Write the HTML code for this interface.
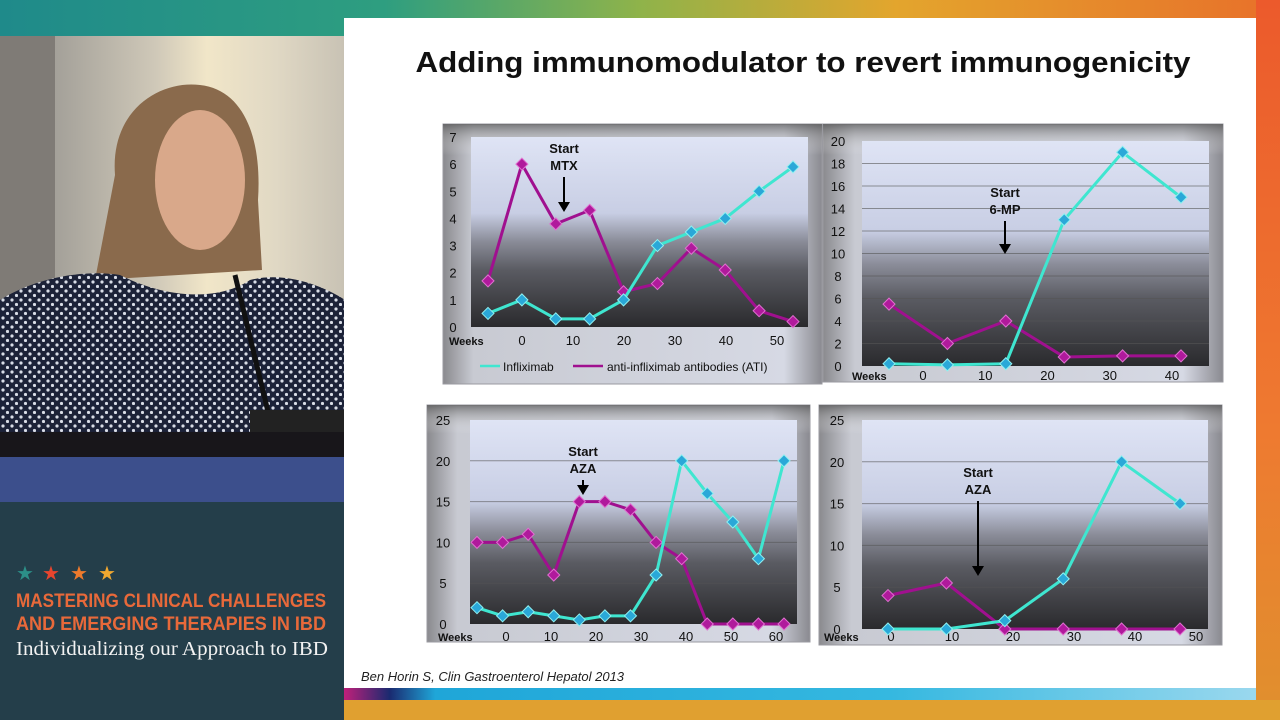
<!DOCTYPE html>
<html><head><meta charset="utf-8">
<style>
html,body{margin:0;padding:0;width:1280px;height:720px;overflow:hidden;background:#1f3b48;font-family:"Liberation Sans",sans-serif}
svg{position:absolute;left:0;top:0}
</style></head>
<body>
<svg width="1280" height="720" viewBox="0 0 1280 720">
<defs>
<linearGradient id="topbar" x1="0" x2="1" y1="0" y2="0">
<stop offset="0" stop-color="#1f8a8a"/><stop offset="0.3" stop-color="#2e9e80"/><stop offset="0.5" stop-color="#8fb34a"/><stop offset="0.7" stop-color="#e3a52d"/><stop offset="1" stop-color="#e8702a"/></linearGradient>
<linearGradient id="rightbar" x1="0" x2="0" y1="0" y2="1"><stop offset="0" stop-color="#ec5a2c"/><stop offset="0.6" stop-color="#ee7a30"/><stop offset="1" stop-color="#e0902e"/></linearGradient>
<linearGradient id="botbar" x1="0" x2="1"><stop offset="0" stop-color="#c0207a"/><stop offset="0.05" stop-color="#1a2a70"/><stop offset="0.1" stop-color="#1fa6d8"/><stop offset="0.6" stop-color="#35b8e0"/><stop offset="1" stop-color="#9ad8ee"/></linearGradient>
<linearGradient id="plotbg" x1="0" x2="0" y1="0" y2="1"><stop offset="0" stop-color="#dfe4f5"/><stop offset="0.4" stop-color="#c8cee4"/><stop offset="0.55" stop-color="#8a8c98"/><stop offset="0.7" stop-color="#5a5b62"/><stop offset="1" stop-color="#2a2a2d"/></linearGradient>
<linearGradient id="framebg" x1="0" x2="1" y1="0" y2="0"><stop offset="0" stop-color="#8a8a8e"/><stop offset="0.08" stop-color="#c8cad2"/><stop offset="0.9" stop-color="#d6d9e4"/><stop offset="1" stop-color="#8a8a90"/></linearGradient>
<linearGradient id="framev" x1="0" x2="0" y1="0" y2="1"><stop offset="0" stop-color="#555" stop-opacity="0.7"/><stop offset="0.12" stop-color="#fff" stop-opacity="0"/></linearGradient>
<linearGradient id="wall" x1="0" x2="1"><stop offset="0" stop-color="#8a8680"/><stop offset="0.15" stop-color="#a29f98"/><stop offset="0.45" stop-color="#cfc8b8"/><stop offset="0.6" stop-color="#f1e6c8"/><stop offset="0.8" stop-color="#e0d8c4"/><stop offset="1" stop-color="#c8c2b4"/></linearGradient>
<pattern id="dots" width="9" height="9" patternUnits="userSpaceOnUse"><rect width="9" height="9" fill="#1c2238"/><circle cx="3" cy="3" r="1.6" fill="#d8dce6"/><circle cx="7.5" cy="7.5" r="1.6" fill="#d8dce6"/></pattern>
</defs>
<rect x="0" y="0" width="1280" height="720" fill="#243e4a"/>
<rect x="0" y="0" width="1280" height="36" fill="url(#topbar)"/>
<rect x="1256" y="0" width="24" height="720" fill="url(#rightbar)"/>
<rect x="344" y="700" width="936" height="20" fill="#e0a030"/>

<g>
<rect x="0" y="36" width="345" height="400" fill="url(#wall)"/>
<rect x="0" y="36" width="55" height="400" fill="#7f7b76"/>
<path d="M115 175 C110 110 160 80 200 85 C245 90 262 140 258 200 L262 270 L95 280 Z" fill="#8a6a4c"/>
<ellipse cx="200" cy="180" rx="45" ry="70" fill="#d9a88a"/>
<path d="M0 300 C40 275 90 270 120 275 C170 300 220 300 250 280 C290 270 330 290 345 300 L345 436 L0 436 Z" fill="url(#dots)"/>
<line x1="235" y1="275" x2="270" y2="420" stroke="#111" stroke-width="5"/>
<rect x="250" y="410" width="95" height="30" fill="#222"/>
<rect x="0" y="432" width="345" height="25" fill="#18161a"/>
<rect x="0" y="457" width="345" height="45" fill="#3c4f8c"/>
</g>

<g>
<text x="16" y="580" font-size="20" fill="#2c8f88">★</text>
<text x="42" y="580" font-size="20" fill="#e8452e">★</text>
<text x="70" y="580" font-size="20" fill="#ee7a2c">★</text>
<text x="98" y="580" font-size="20" fill="#f0a830">★</text>
<text x="16" y="607" font-size="19" font-weight="bold" fill="#e8693a" textLength="310" lengthAdjust="spacingAndGlyphs">MASTERING CLINICAL CHALLENGES</text>
<text x="16" y="630" font-size="19" font-weight="bold" fill="#e8693a" textLength="310" lengthAdjust="spacingAndGlyphs">AND EMERGING THERAPIES IN IBD</text>
<text x="16" y="655" font-size="20" fill="#f2f2f2" font-family="Liberation Serif, serif" textLength="312" lengthAdjust="spacingAndGlyphs">Individualizing our Approach to IBD</text>
</g>

<rect x="344" y="18" width="912" height="682" fill="#ffffff"/>
<rect x="344" y="688" width="912" height="12" fill="url(#botbar)"/>
<text x="803" y="72" font-size="29" font-weight="bold" text-anchor="middle" fill="#111" textLength="775" lengthAdjust="spacingAndGlyphs">Adding immunomodulator to revert immunogenicity</text>
<text x="361" y="681" font-size="13" font-style="italic" fill="#222">Ben Horin S, Clin Gastroenterol Hepatol 2013</text>
<g id="charts"></g>
</svg>
<script>
// Chart 1: MTX
const c1Infliximab = [0.5, 1, 0.3, 0.3, 1, 3, 3.5, 4, 5, 5.9];
const c1Ati = [1.7, 6, 3.8, 4.3, 1.3, 1.6, 2.9, 2.1, 0.6, 0.2];
const c1Ticks = [0, 1, 2, 3, 4, 5, 6, 7];
const c1XLabels = ["0", "10", "20", "30", "40", "50"];
// Chart 2: 6-MP
const c2Infliximab = [0.2, 0.1, 0.2, 13, 19, 15];
const c2Ati = [5.5, 2, 4, 0.8, 0.9, 0.9];
const c2Ticks = [0, 2, 4, 6, 8, 10, 12, 14, 16, 18, 20];
const c2XLabels = ["0", "10", "20", "30", "40"];
// Chart 3: AZA
const c3Infliximab = [2, 1, 1.5, 1, 0.5, 1, 1, 6, 20, 16, 12.5, 8, 20];
const c3Ati = [10, 10, 11, 6, 15, 15, 14, 10, 8, 0, 0, 0, 0];
const c3Ticks = [0, 5, 10, 15, 20, 25];
const c3XLabels = ["0", "10", "20", "30", "40", "50", "60"];
// Chart 4: AZA
const c4Infliximab = [0, 0, 1, 6, 20, 15];
const c4Ati = [4, 5.5, 0, 0, 0, 0];
const c4Ticks = [0, 5, 10, 15, 20, 25];
const c4XLabels = ["0", "10", "20", "30", "40", "50"];

const NS = "http://www.w3.org/2000/svg";
const root = document.getElementById("charts");
function mk(tag, attrs, parent) {
  const e = document.createElementNS(NS, tag);
  for (const k in attrs) e.setAttribute(k, attrs[k]);
  parent.appendChild(e);
  return e;
}
function chart(cfg) {
  const g = mk("g", {}, root);
  
  
  const fr = mk("rect", {x: cfg.fx, y: cfg.fy, width: cfg.fw, height: cfg.fh, fill: "url(#framebg)", stroke: "#9a9aa0"}, g);
  
  
  mk("rect", {x: cfg.fx, y: cfg.fy, width: cfg.fw, height: cfg.fh, fill: "url(#framev)"}, g);
  const pa = mk("rect", {x: cfg.px, y: cfg.py, width: cfg.pw, height: cfg.ph, fill: "url(#plotbg)"}, g);
  
  
  const ymax = cfg.ticks[cfg.ticks.length - 1];
  const ys = v => cfg.py + cfg.ph - v / ymax * cfg.ph;
  const n = cfg.inf.length;
  const xs = i => cfg.x0 + i * (cfg.x1 - cfg.x0) / (n - 1);
  cfg.ticks.forEach(t => {
    if (cfg.grid && t > 0 && t < ymax) {
      const gl = mk("line", {x1: cfg.px, x2: cfg.px + cfg.pw, y1: ys(t), y2: ys(t), stroke: "#555", "stroke-opacity": 0.6}, g);
      
      
    }
    const tl = mk("text", {x: cfg.fx + cfg.ylx, y: ys(t) + 5, "font-size": 13, "text-anchor": "middle", fill: "#111"}, g);
    tl.textContent = t;
    
    
  });
  const wk = mk("text", {x: cfg.wx, y: cfg.xly, "font-size": 11, "font-weight": "bold", fill: "#111"}, g);
  wk.textContent = "Weeks";
  
  
  const xw = (cfg.xl1 - cfg.xl0) / (cfg.xlabels.length - 1);
  cfg.xlabels.forEach((l, i) => {
    const t = mk("text", {x: cfg.xl0 + i * xw, y: cfg.xly, "font-size": 13, "text-anchor": "middle", fill: "#111"}, g);
    t.textContent = l;
    
    
  });
  [[cfg.ati, "#a0108f", "ati-series"], [cfg.inf, "#3fe6d0", "infliximab-series"]].forEach(([arr, col, nm]) => {
    const pts = arr.map((v, i) => xs(i) + "," + ys(v)).join(" ");
    const pl = mk("polyline", {points: pts, fill: "none", stroke: col, "stroke-width": 3}, g);
    
    
    arr.forEach((v, i) => {
      const x = xs(i), y = ys(v);
      const m = mk("polygon", {points: `${x},${y-6} ${x+6},${y} ${x},${y+6} ${x-6},${y}`, fill: nm == "ati-series" ? "#b01a9c" : "#2aa8d8", stroke: nm == "ati-series" ? "#e070d0" : "#8ef0f0", "stroke-width": 1}, g);
      
      
    });
  });
  const an = mk("text", {x: cfg.ax, y: cfg.ay, "font-size": 13, "font-weight": "bold", "text-anchor": "middle", fill: "#111"}, g);
  
  
  const s1 = mk("tspan", {x: cfg.ax, dy: 0}, an); s1.textContent = "Start";
  const s2 = mk("tspan", {x: cfg.ax, dy: 17}, an); s2.textContent = cfg.drug;
  const ar = mk("path", {d: `M${cfg.ax-1} ${cfg.ay+24} V${cfg.ay2-8} h-5 l6 10 l6 -10 h-5 V${cfg.ay+24} Z`, fill: "#000"}, g);
  
  
  return g;
}
const g1 = chart({name: "chart-mtx", fx: 443, fy: 124, fw: 379, fh: 260, px: 471, py: 137, pw: 337, ph: 190,
  ticks: c1Ticks, inf: c1Infliximab, ati: c1Ati, x0: 488, x1: 793, xlabels: c1XLabels, xl0: 522, xl1: 777, xly: 345,
  wx: 449, ylx: 10, grid: false, ax: 564, ay: 153, ay2: 210, drug: "MTX"});
const g2 = chart({name: "chart-6mp", fx: 823, fy: 124, fw: 400, fh: 258, px: 862, py: 141, pw: 347, ph: 225,
  ticks: c2Ticks, inf: c2Infliximab, ati: c2Ati, x0: 889, x1: 1181, xlabels: c2XLabels, xl0: 923, xl1: 1172, xly: 380,
  wx: 852, ylx: 15, grid: true, ax: 1005, ay: 197, ay2: 252, drug: "6-MP"});
const g3 = chart({name: "chart-aza-1", fx: 427, fy: 405, fw: 383, fh: 237, px: 470, py: 420, pw: 327, ph: 204,
  ticks: c3Ticks, inf: c3Infliximab, ati: c3Ati, x0: 477, x1: 784, xlabels: c3XLabels, xl0: 506, xl1: 776, xly: 641,
  wx: 438, ylx: 16, grid: true, ax: 583, ay: 456, ay2: 493, drug: "AZA"});
const g4 = chart({name: "chart-aza-2", fx: 819, fy: 405, fw: 403, fh: 240, px: 862, py: 420, pw: 346, ph: 209,
  ticks: c4Ticks, inf: c4Infliximab, ati: c4Ati, x0: 888, x1: 1180, xlabels: c4XLabels, xl0: 891, xl1: 1196, xly: 641,
  wx: 824, ylx: 18, grid: true, ax: 978, ay: 477, ay2: 574, drug: "AZA"});
// legend for chart 1
const lg = mk("g", {}, g1);


const l1 = mk("line", {x1: 480, x2: 500, y1: 366, y2: 366, stroke: "#3fe6d0", "stroke-width": 2.5}, lg);


const t1 = mk("text", {x: 503, y: 371, "font-size": 12, fill: "#111"}, lg);
t1.textContent = "Infliximab";


const l2 = mk("line", {x1: 573, x2: 603, y1: 366, y2: 366, stroke: "#a0108f", "stroke-width": 2.5}, lg);


const t2 = mk("text", {x: 607, y: 371, "font-size": 12, fill: "#111"}, lg);
t2.textContent = "anti-infliximab antibodies (ATI)";


</script>
</body></html>
